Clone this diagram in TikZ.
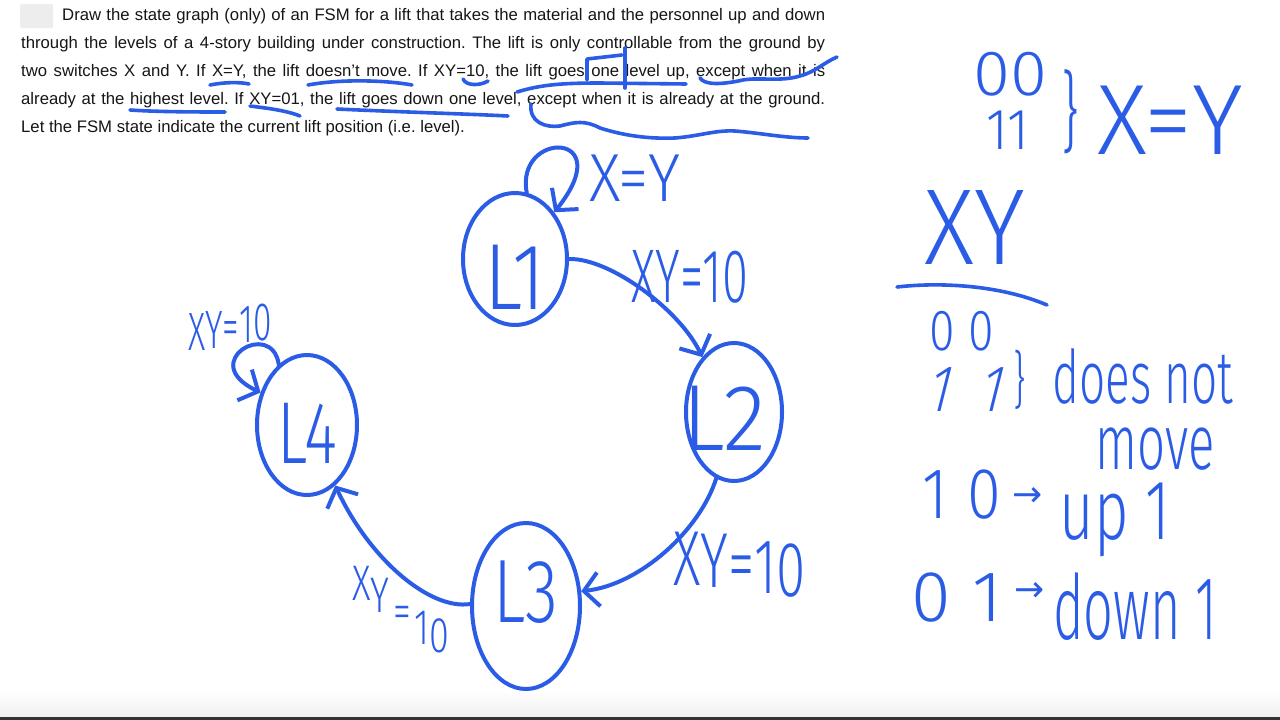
\documentclass[tikz,border=0pt]{standalone}
\usepackage{fontspec}
\usetikzlibrary{arrows.meta,shapes.geometric}
\setmainfont{Liberation Sans}
\newfontfamily\parafont{Liberation Sans}
\IfFontExistsTF{Fira Sans Light}{\newfontfamily\handfont{Fira Sans Light}}{\newfontfamily\handfont{Liberation Sans}}
\newfontfamily\arrowfont{DejaVu Sans}
\newcommand\handf[2]{\handfont\addfontfeatures{FakeStretch=#2}\fontsize{#1}{#1}\selectfont}
\definecolor{ink}{RGB}{43,92,230}
\definecolor{txt}{RGB}{22,22,22}
\tikzset{
  inkline/.style={draw=ink, line width=4pt, line cap=round, line join=round},
  hl/.style={draw=ink, line width=3.6pt, line cap=round, line join=round},
  state/.style={ellipse, inkline, inner sep=0pt, text=ink},
  edge/.style={inkline, -{Straight Barb[length=15pt,width=34pt]}},
  hand/.style={text=ink, inner sep=0pt},
  para/.style={text=txt, inner sep=0pt, anchor=base west, font=\parafont\fontsize{16.7}{20}\selectfont\frenchspacing},
}
\begin{document}
\begin{tikzpicture}[x=1pt,y=-1pt]
\useasboundingbox (0,0) rectangle (1280,720);
\fill[white] (0,0) rectangle (1280,720);
\shade[top color=white, bottom color=black!6] (0,690) rectangle (1280,717);
\fill[black!80] (0,717) rectangle (1280,720);
\fill[black!7, rounded corners=2pt] (20,4) rectangle (53,28);

% problem statement
\node[para] (p1) at (62,20) {\makebox[763pt][s]{Draw the state graph (only) of an FSM for a lift that takes the material and the personnel up and down}};
\node[para] (p2) at (21,48) {\makebox[804pt][s]{through the levels of a 4-story building under construction. The lift is only controllable from the ground by}};
\node[para] (p3) at (21,76) {\makebox[804pt][s]{two switches X and Y. If X=Y, the lift doesn’t move. If XY=10, the lift goes one level up, except when it is}};
\node[para] (p4) at (21,104) {\makebox[804pt][s]{already at the highest level. If XY=01, the lift goes down one level, except when it is already at the ground.}};
\node[para] (p5) at (21,132) {Let the FSM state indicate the current lift position (i.e. level).};

% hand underlines
\draw[hl] (210,85) .. controls (225,82) and (240,82) .. (249,84);
\draw[hl] (308,85) .. controls (340,79) and (385,80) .. (412,85);
\draw[hl] (463,79) .. controls (466,86) and (480,86) .. (488,81);
\draw[hl] (130,110) .. controls (160,112) and (200,112) .. (225,112);
\draw[hl] (250,106) .. controls (265,108) and (285,110) .. (300,116);
\draw[hl] (337,109) .. controls (400,112) and (470,114) .. (508,116);
\draw[hl] (587,80) -- (587,59) -- (622,55);
\draw[hl] (625,48) -- (625,88);
\draw[hl] (517,92) .. controls (540,85) and (560,83) .. (600,83) -- (686,84);
\draw[hl] (700,78) .. controls (705,86) and (725,84) .. (743,80) .. controls (760,77) and (780,82) .. (800,76) .. controls (815,72) and (825,62) .. (837,57);
\draw[hl] (531,104) .. controls (529,122) and (545,128) .. (560,126) .. controls (575,122) and (585,120) .. (600,128) .. controls (625,136) and (650,139) .. (675,138) .. controls (700,136) and (715,130) .. (735,131) .. controls (760,133) and (785,138) .. (808,138);

% states
\node[state, minimum width=104pt, minimum height=132pt, font=\handf{94}{0.85}] (L1) at (515,259) {\raisebox{-50pt}[0pt][0pt]{L1}};
\node[state, minimum width=96pt, minimum height=138pt, font=\handf{94}{0.95}] (L2) at (734,412) {\hspace*{-20pt}\raisebox{-38pt}[0pt][0pt]{L2}};
\node[state, minimum width=108pt, minimum height=166pt, font=\handf{90}{0.75}] (L3) at (526,606) {\raisebox{-16pt}[0pt][0pt]{L3}};
\node[state, minimum width=100pt, minimum height=140pt, font=\handf{88}{0.72}] (L4) at (307,425) {\raisebox{-38pt}[0pt][0pt]{L4}};

% transitions
\draw[edge] (L1.80) .. controls (515,130) and (620,130) .. (L1.50);
\draw[edge] (L1.east) .. controls (610,258) and (680,310) .. (L2.120);
\draw[edge] (L2.255) .. controls (700,530) and (640,585) .. (L3.15);
\draw[edge] (L3.178) .. controls (430,610) and (370,560) .. (L4.295);
\draw[edge] (L4.115) .. controls (272,318) and (196,362) .. (L4.145);

% transition labels
\node[hand, font=\handf{68}{0.9}] (e11) at (635,178) {X=Y};
\node[hand, font=\handf{76}{0.62}] (e12) at (690,277) {XY=10};
\node[hand, font=\handf{78}{0.68}, anchor=base west] (e23) at (673,585) {X\raisebox{-2pt}{Y}\raisebox{-5pt}{=}\raisebox{-8pt}{1}\raisebox{-11pt}{0}};
\node[hand, font=\handf{50}{0.72}, anchor=base west] (e34) at (352,600) {X\raisebox{-12pt}{Y}\kern4pt\raisebox{-28pt}{=}\kern3pt\raisebox{-44pt}{1}\raisebox{-52pt}{0}};
\node[hand, font=\handf{54}{0.62}, anchor=base west] (e44) at (188,350) {X\raisebox{2pt}{Y}\raisebox{5pt}{=}\raisebox{8pt}{1}\raisebox{10pt}{0}};

% side notes
\node[hand, font=\handf{64}{1.05}] (n1) at (1010,74) {00};
\node[hand, font=\handf{58}{0.9}] (n2) at (1008,130) {11};
\node[hand, font=\handf{88}{0.62}] (b1) at (1070,112) {\}};
\node[hand, font=\handf{100}{0.97}] (n3) at (1170,120) {X=Y};
\node[hand, font=\handf{108}{0.9}] (n4) at (975,228) {XY};
\draw[hl] (897,287) .. controls (940,282) and (1000,285) .. (1047,305);
\node[hand, font=\handf{58}{0.8}] (n5) at (962,331) {0\kern14pt 0};
\node[hand, font=\handf{66}{0.8}\addfontfeatures{FakeSlant=0.25}] (n6) at (962,390) {1\kern30pt 1};
\node[hand, font=\handf{62}{0.62}] (b2) at (1020,380) {\}};
\node[hand, font=\handf{74}{0.62}] (n7) at (1143,376) {does not};
\node[hand, font=\handf{78}{0.63}] (n8) at (1155,449) {move};
\node[hand, font=\handf{72}{0.85}] (n9) at (962,495) {1\kern20pt 0};
\node[hand, font=\arrowfont\fontsize{36}{36}\selectfont] (a1) at (1028,497) {→};
\node[hand, font=\handf{85}{0.7}] (n10) at (1115,520) {up 1};
\node[hand, font=\handf{72}{1.0}] (n11) at (957,598) {0\kern22pt 1};
\node[hand, font=\arrowfont\fontsize{36}{36}\selectfont] (a2) at (1030,592) {→};
\node[hand, font=\handf{90}{0.58}] (n12) at (1135,607) {down 1};
\end{tikzpicture}
\end{document}
